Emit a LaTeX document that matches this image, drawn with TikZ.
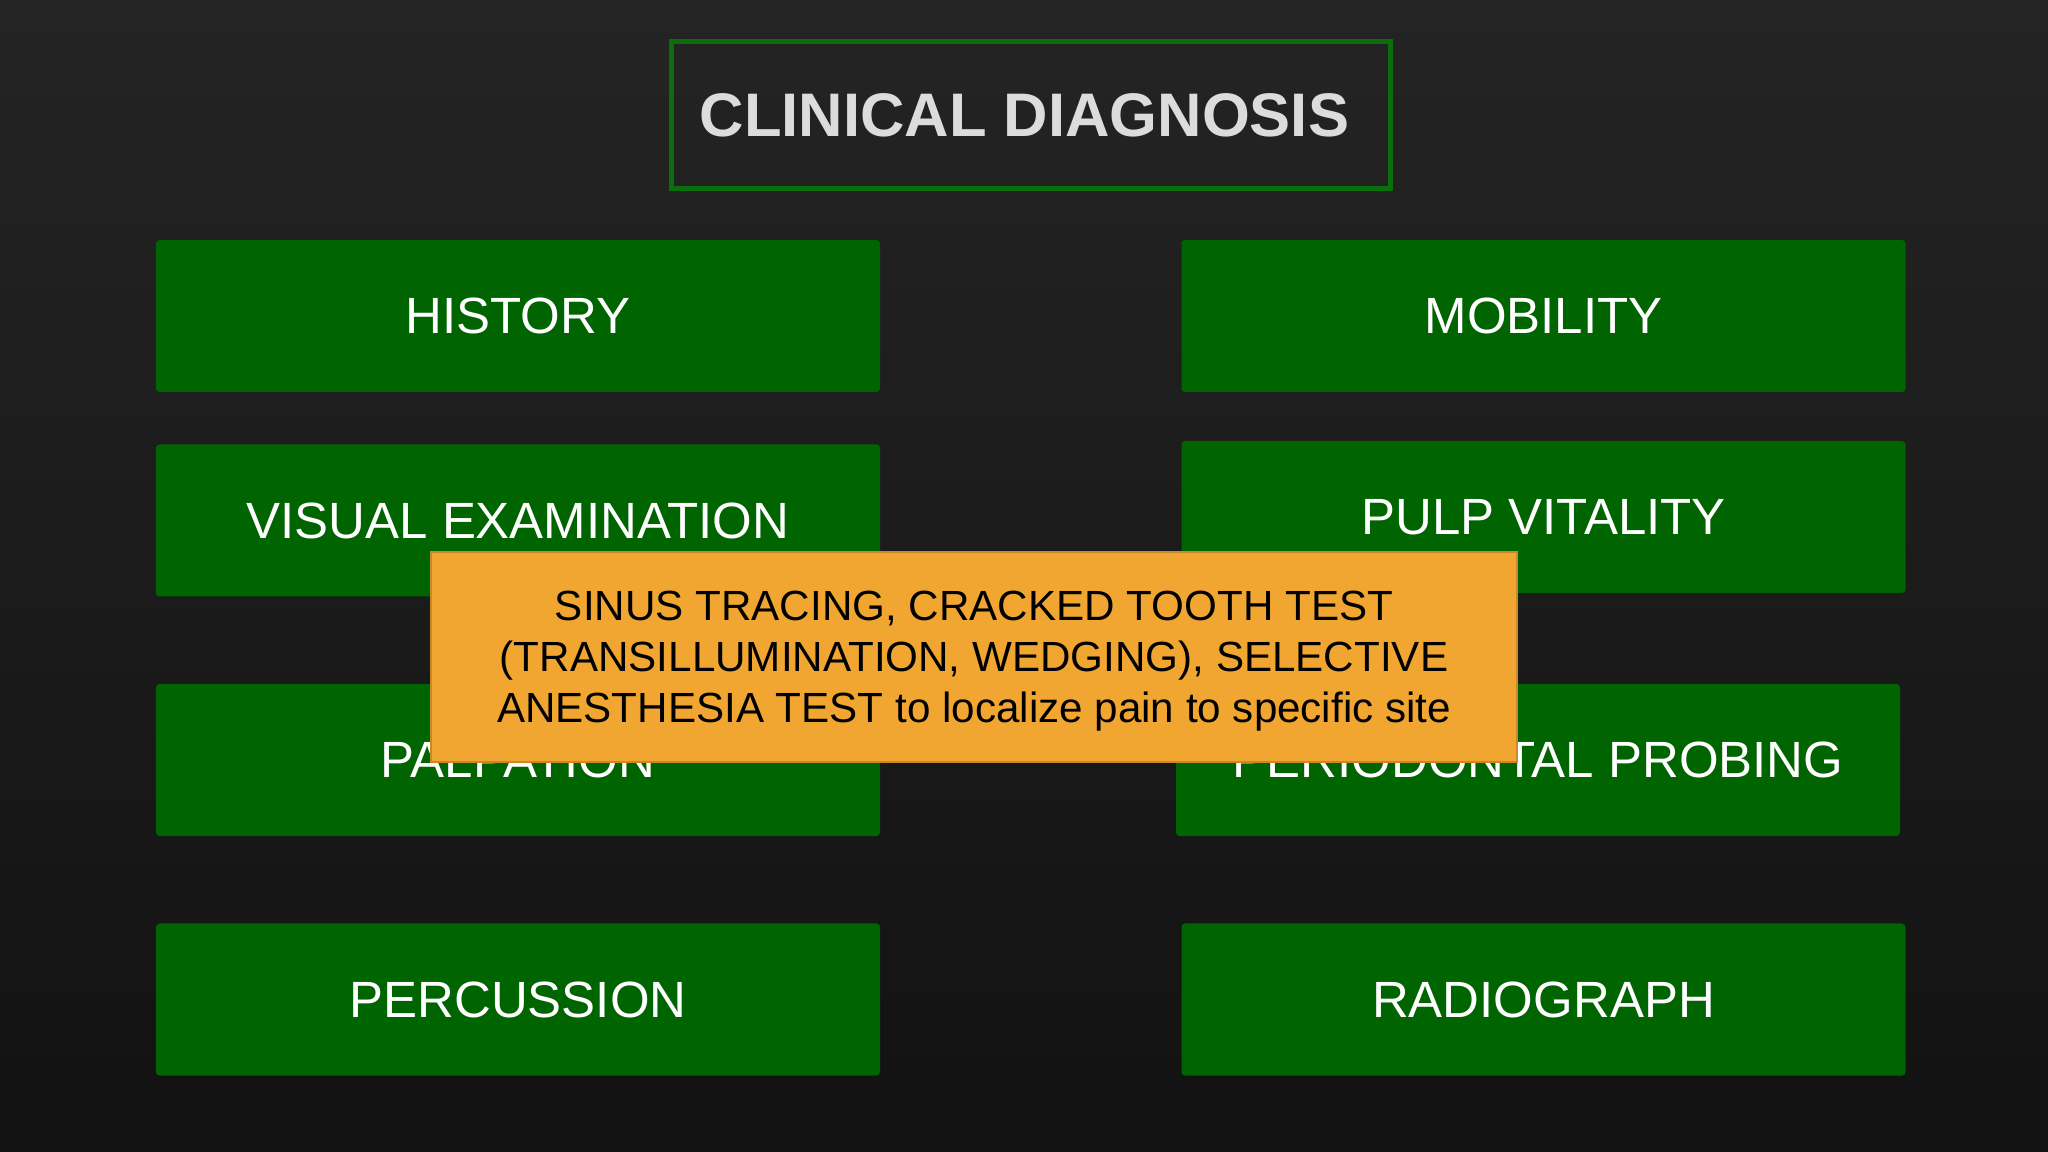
\documentclass[tikz,border=0pt]{standalone}
\usepackage{fontspec}
\setmainfont{Liberation Sans}
\usepackage{tikz}

\definecolor{bgtop}{HTML}{242424}
\definecolor{bgbot}{HTML}{121212}
\definecolor{boxgreen}{HTML}{006400}
\definecolor{framegreen}{HTML}{0A6E0A}
\definecolor{notefill}{HTML}{F0A630}
\definecolor{noteline}{HTML}{C98A25}
\definecolor{titlegray}{HTML}{DCDCDC}

\tikzset{
  greenbox/.style={fill=boxgreen, rounded corners=1pt, minimum width=7.24cm,
    minimum height=1.52cm, inner sep=0pt, text=white,
    font=\fontsize{14.5}{17}\selectfont},
  titlebox/.style={draw=framegreen, line width=0.05cm, minimum width=7.19cm,
    minimum height=1.47cm, inner sep=0pt, text=titlegray,
    font=\fontsize{17.5}{21}\selectfont\bfseries},
  notebox/.style={fill=notefill, draw=noteline, line width=0.02cm,
    minimum width=10.86cm, minimum height=2.10cm, inner sep=0pt,
    align=center, text=black, text depth=0pt,
    font=\fontsize{12}{14.5}\selectfont}
}

\begin{document}
\begin{tikzpicture}
\useasboundingbox (0,0) rectangle (20.48,-11.52);
\fill[top color=bgtop, bottom color=bgbot] (0,0) rectangle (20.48,-11.52);
%title
\node[titlebox] at (10.31,-1.15) (Title) {\hspace*{-0.13cm}CLINICAL DIAGNOSIS};
%left column
\node[greenbox] at (5.18,-3.16) (History) {HISTORY};
\node[greenbox] at (5.18,-5.205) (Visual) {VISUAL EXAMINATION};
\node[greenbox] at (5.18,-7.60) (Palpation) {PALPATION};
\node[greenbox] at (5.18,-9.995) (Percussion) {PERCUSSION};
%right column
\node[greenbox] at (15.435,-3.16) (Mobility) {MOBILITY};
\node[greenbox] at (15.435,-5.17) (Pulp) {PULP VITALITY};
\node[greenbox] at (15.38,-7.60) (Probing) {PERIODONTAL PROBING};
\node[greenbox] at (15.435,-9.995) (Radiograph) {RADIOGRAPH};
%note on top
\node[notebox] at (9.74,-6.57) (Note) {SINUS TRACING, CRACKED TOOTH TEST\\
(TRANSILLUMINATION, WEDGING), SELECTIVE\\
ANESTHESIA TEST to localize pain to specific site};
\end{tikzpicture}
\end{document}
